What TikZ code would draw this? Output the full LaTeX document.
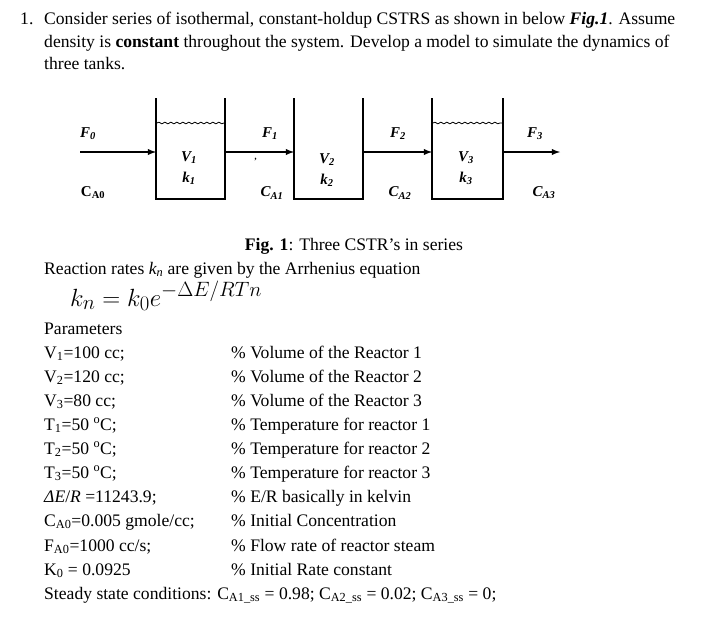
\documentclass[tikz,border=0pt]{standalone}
\usepackage{fontspec}
\setmainfont{Liberation Serif}
\usetikzlibrary{decorations.pathmorphing}
\tikzset{
 txt/.style={anchor=base west,inner sep=0pt,font=\fontsize{17.6}{20}\selectfont},
 lbl/.style={inner sep=0pt,font=\fontsize{15}{17}\selectfont\itshape\bfseries},
 wall/.style={line width=1.1pt},
 flow/.style={line width=1.8pt,-latex},
 wave/.style={line width=0.8pt,decorate,decoration={snake,amplitude=0.8pt,segment length=6pt}}
}
\newcommand{\sbs}[1]{\textsubscript{#1}}
\begin{document}
\begin{tikzpicture}[x=1pt,y=-1pt]
\useasboundingbox (0,0) rectangle (720,624);
% top text
\node[txt] (q1) at (20,24) {1.};
\node[txt] (q2) at (44,24) {Consider series of isothermal, constant-holdup CSTRS as shown in below \textbf{\textit{Fig.1}}. Assume};
\node[txt] (q3) at (44,47) {density is \textbf{constant} throughout the system. Develop a model to simulate the dynamics of};
\node[txt] (q4) at (44,69) {three tanks.};
% tanks
\draw[wall] (156,98) -- (156,199) -- (225,199) -- (225,98);
\draw[wall] (294,98) -- (294,199) -- (363,199) -- (363,98);
\draw[wall] (432,98) -- (432,199) -- (503,199) -- (503,98);
\draw[wave] (157,123) -- (224,123);
\draw[wave] (433,123) -- (502,123);
\coordinate (in) at (80,152);
\coordinate (t1l) at (156,152); \coordinate (t1r) at (225,152);
\coordinate (t2l) at (294,152); \coordinate (t2r) at (363,152);
\coordinate (t3l) at (432,152); \coordinate (t3r) at (503,152);
\coordinate (out) at (560,152);
\draw[flow] (in) -- (t1l);
\draw[flow] (t1r) -- (t2l);
\draw[flow] (t2r) -- (t3l);
\draw[flow] (t3r) -- (out);
\node[lbl] (f0) at (88,134) {F\sbs{0}};
\node[lbl] (ca0) at (93,193) {\upshape C\sbs{A0}};
\node[lbl] (v1) at (189,158) {V\sbs{1}};
\node[lbl] (k1) at (189,178) {k\sbs{1}};
\node[lbl] (f1) at (270,134) {F\sbs{1}};
\node[lbl] (tick) at (256,160) {\fontsize{9}{9}\selectfont ,};
\node[lbl] (ca1) at (272,193) {C\sbs{A1}};
\node[lbl] (v2) at (327,160) {V\sbs{2}};
\node[lbl] (k2) at (327,180) {k\sbs{2}};
\node[lbl] (f2) at (398,134) {F\sbs{2}};
\node[lbl] (ca2) at (400,193) {C\sbs{A2}};
\node[lbl] (v3) at (466,158) {V\sbs{3}};
\node[lbl] (k3) at (466,178) {k\sbs{3}};
\node[lbl] (f3) at (535,134) {F\sbs{3}};
\node[lbl] (ca3) at (544,193) {C\sbs{A3}};
% caption and equation
\node[txt,anchor=base] (cap) at (354,250) {\textbf{Fig. 1}: Three CSTR's in series};
\node[txt] (rr) at (44,274) {Reaction rates \textit{k\sbs{n}} are given by the Arrhenius equation};
\node[txt,font=\fontsize{31}{34}\selectfont] (eq) at (70,306) {$k_n=k_0e^{-\Delta E/RTn}$};
\node[txt] (par) at (44,334) {Parameters};
\foreach \y/\a/\b in {358/{V\sbs{1}=100 cc;}/{\% Volume of the Reactor 1},
 382/{V\sbs{2}=120 cc;}/{\% Volume of the Reactor 2},
 406/{V\sbs{3}=80 cc;}/{\% Volume of the Reactor 3},
 430/{T\sbs{1}=50 \textsuperscript{o}C;}/{\% Temperature for reactor 1},
 454/{T\sbs{2}=50 \textsuperscript{o}C;}/{\% Temperature for reactor 2},
 478/{T\sbs{3}=50 \textsuperscript{o}C;}/{\% Temperature for reactor 3},
 502/{\textit{ΔE}/\textit{R} =11243.9;}/{\% E/R basically in kelvin},
 526/{C\sbs{A0}=0.005 gmole/cc;}/{\% Initial Concentration},
 551/{F\sbs{A0}=1000 cc/s;}/{\% Flow rate of reactor steam},
 575/{K\sbs{0} = 0.0925}/{\% Initial Rate constant}}
 {\node[txt] at (44,\y) {\a}; \node[txt] at (231,\y) {\b};}
\node[txt] (ss) at (44,599) {Steady state conditions: C\sbs{A1\_ss} = 0.98; C\sbs{A2\_ss} = 0.02; C\sbs{A3\_ss} = 0;};
\end{tikzpicture}
\end{document}
